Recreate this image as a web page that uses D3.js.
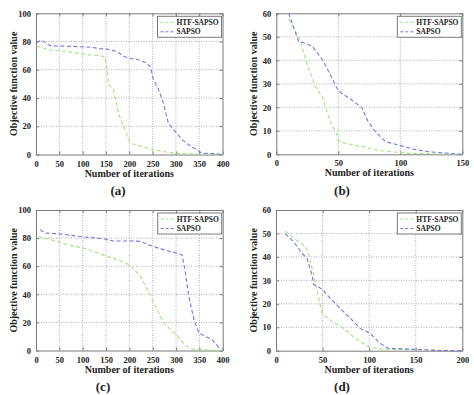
<!DOCTYPE html>
<html>
<head>
<meta charset="utf-8">
<script src="https://cdn.jsdelivr.net/npm/d3@7"></script>
<style>
  body { margin: 0; background: #fff; }
</style>
</head>
<body>
<div id="chart"></div>
<script>
/* four convergence plots, HTF-SAPSO vs SAPSO */

const seriesNames = ["HTF-SAPSO", "SAPSO"];
const panelLabels = ["(a)", "(b)", "(c)", "(d)"];

// [iteration, value]
const htfA = [[1,77],[30,74],[66,73],[102,71],[137,70],[148,69],[152,62],[155,50],[166,46],[177,29],[188,20],[202,8],[223,6],[245,4],[281,1.6],[309,0.7],[352,0.2],[400,0]];
const sapA = [[1,79.5],[12,81],[30,77],[66,76.7],[116,76],[137,75],[152,74.6],[173,73],[188,69.4],[202,68],[216,67.5],[238,64.7],[245,62],[252,53],[263,46],[273,36.5],[284,22],[298,16.5],[313,10.6],[331,6],[345,3.5],[355,1],[388,0.5],[400,0]];

const htfB = [[10,57.5],[19,49],[25,38],[31.5,28.8],[37,24.5],[43.5,13.9],[49,8.2],[50,6],[52,5.1],[62,4],[70,3.3],[81,1.8],[92,1.1],[108,0.4],[150,0]];
const sapB = [[10,60],[18,48],[22,47.5],[29,46],[38,39.7],[49,28],[50,27],[60,23.4],[69,19.9],[74,14],[80,9.6],[88,5.4],[100,3.7],[111,2.1],[123,1.1],[140,0.4],[150,0]];

const htfC = [[5,81],[37,78.4],[73,74.8],[109,72.4],[145,67.7],[180,64],[202,60.5],[223,53.4],[245,39],[273,20],[302,10.7],[320,3.6],[338,0.7],[400,0]];
const sapC = [[9,86],[19,83.6],[52,83],[102,80.8],[145,79.6],[166,77.9],[209,77.9],[223,77.7],[245,74.8],[266,72.4],[295,70],[313,68],[320,55.8],[327,39],[338,22.6],[349,12.4],[359,10.7],[377,7.8],[388,3.6],[395,0.2]];

const htfD = [[10,51],[19,48],[31.5,44.4],[35,41.5],[40.4,32.3],[49.4,16],[58.3,13],[72.6,9.5],[85,5.3],[99.5,1.7],[112,0.7],[200,0]];
const sapD = [[10,49.8],[19,46.5],[28,41.5],[33.3,39.4],[38.6,32.3],[40.4,28.3],[49.4,26.3],[58.3,22.3],[69,18],[79.8,13.8],[90.5,9.5],[101,7.4],[112,3.1],[121,1],[144,0.7],[173,0.1],[200,0]];

const xTicksA = [0,50,100,150,200,250,300,350,400];
const xTicksB = [0,50,100,150];
const xTicksD = [0,50,100,150,200];
const yTicks100 = [0,20,40,60,80,100];
const yTicks60 = [0,10,20,30,40,50,60];

const colors = ["#a3e585", "#7777e0"];
const serif = "'Liberation Serif', 'DejaVu Serif', serif";

const width = 474, height = 395;

const panels = [
  { box: [36, 222.5, 13.3, 154.5], xmax: 400, ymax: 100, xt: xTicksA, yt: yTicks100, data: [htfA, sapA], labelX: 118, labelY: 195 },
  { box: [276.3, 462.3, 13.3, 154.3], xmax: 150, ymax: 60, xt: xTicksB, yt: yTicks60, data: [htfB, sapB], labelX: 342, labelY: 195 },
  { box: [36, 222.7, 210, 350.5], xmax: 400, ymax: 100, xt: xTicksA, yt: yTicks100, data: [htfC, sapC], labelX: 103, labelY: 391 },
  { box: [276, 462.3, 210, 350.7], xmax: 200, ymax: 60, xt: xTicksD, yt: yTicks60, data: [htfD, sapD], labelX: 342, labelY: 391 }
];

const svg = d3.select("#chart").append("svg")
  .attr("width", width)
  .attr("height", height);

panels.forEach((p, i) => {
  const [l, r, t, b] = p.box;
  const x = d3.scaleLinear().domain([0, p.xmax]).range([l, r]);
  const y = d3.scaleLinear().domain([0, p.ymax]).range([b, t]);
  const g = svg.append("g");

  // grid
  g.selectAll(".gx").data(p.xt.slice(1, -1)).join("line")
    .attr("x1", d => x(d)).attr("x2", d => x(d))
    .attr("y1", t).attr("y2", b)
    .attr("stroke", "#9a9a9a").attr("stroke-width", 0.8)
    .attr("stroke-dasharray", "1,1.5");
  g.selectAll(".gy").data(p.yt.slice(1, -1)).join("line")
    .attr("x1", l).attr("x2", r)
    .attr("y1", d => y(d)).attr("y2", d => y(d))
    .attr("stroke", "#9a9a9a").attr("stroke-width", 0.8)
    .attr("stroke-dasharray", "1,1.5");

  // axes with inward ticks, box on all sides
  const bottom = g.append("g").attr("transform", `translate(0,${b})`)
    .call(d3.axisBottom(x).tickValues(p.xt).tickSizeInner(-3).tickSizeOuter(0).tickPadding(6));
  const top = g.append("g").attr("transform", `translate(0,${t})`)
    .call(d3.axisTop(x).tickValues(p.xt).tickSizeInner(-3).tickSizeOuter(0).tickFormat(""));
  const left = g.append("g").attr("transform", `translate(${l},0)`)
    .call(d3.axisLeft(y).tickValues(p.yt).tickSizeInner(-3).tickSizeOuter(0).tickPadding(5));
  const right = g.append("g").attr("transform", `translate(${r},0)`)
    .call(d3.axisRight(y).tickValues(p.yt).tickSizeInner(-3).tickSizeOuter(0).tickFormat(""));
  [bottom, top, left, right].forEach(a => {
    a.select(".domain").attr("stroke", "#7a7a7a").attr("stroke-width", 1);
    a.selectAll(".tick line").attr("stroke", "#7a7a7a");
    a.selectAll("text").attr("font-size", 8.5)
      .style("font-family", serif).style("font-weight", "bold").attr("fill", "#222");
  });

  // lines
  const line = d3.line().x(d => x(d[0])).y(d => y(d[1]));
  p.data.forEach((s, k) => {
    g.append("path")
      .attr("d", line(s))
      .attr("fill", "none")
      .attr("stroke", colors[k])
      .attr("stroke-width", 1.1)
      .attr("stroke-dasharray", "4,2.5");
  });

  // legend
  const lg = g.append("g").attr("transform", `translate(${r - 65},${t + 3})`);
  lg.append("rect").attr("width", 64).attr("height", 21)
    .attr("fill", "#fff").attr("stroke", "#7a7a7a").attr("stroke-width", 1);
  seriesNames.forEach((n, k) => {
    lg.append("line").attr("x1", 3).attr("x2", 17)
      .attr("y1", 6 + k * 9.5).attr("y2", 6 + k * 9.5)
      .attr("stroke", colors[k]).attr("stroke-width", 1)
      .attr("stroke-dasharray", "3,2");
    lg.append("text").attr("x", 19).attr("y", 8.5 + k * 9.5)
      .attr("font-size", 7.5).style("font-family", serif).style("font-weight", "bold")
      .attr("fill", "#222").text(n);
  });

  // axis titles
  g.append("text")
    .attr("x", (l + r) / 2).attr("y", b + 22)
    .attr("text-anchor", "middle").attr("font-size", 10)
    .style("font-family", serif).style("font-weight", "bold").attr("fill", "#222")
    .text("Number of iterations");
  g.append("text")
    .attr("transform", `translate(${l - 19},${(t + b) / 2}) rotate(-90)`)
    .attr("text-anchor", "middle").attr("font-size", 10)
    .style("font-family", serif).style("font-weight", "bold").attr("fill", "#222")
    .text("Objective function value");

  g.append("text")
    .attr("x", p.labelX).attr("y", p.labelY)
    .attr("text-anchor", "middle").attr("font-size", 13)
    .style("font-family", serif).style("font-weight", "bold").attr("fill", "#222")
    .text(panelLabels[i]);
});
</script>
</body>
</html>
